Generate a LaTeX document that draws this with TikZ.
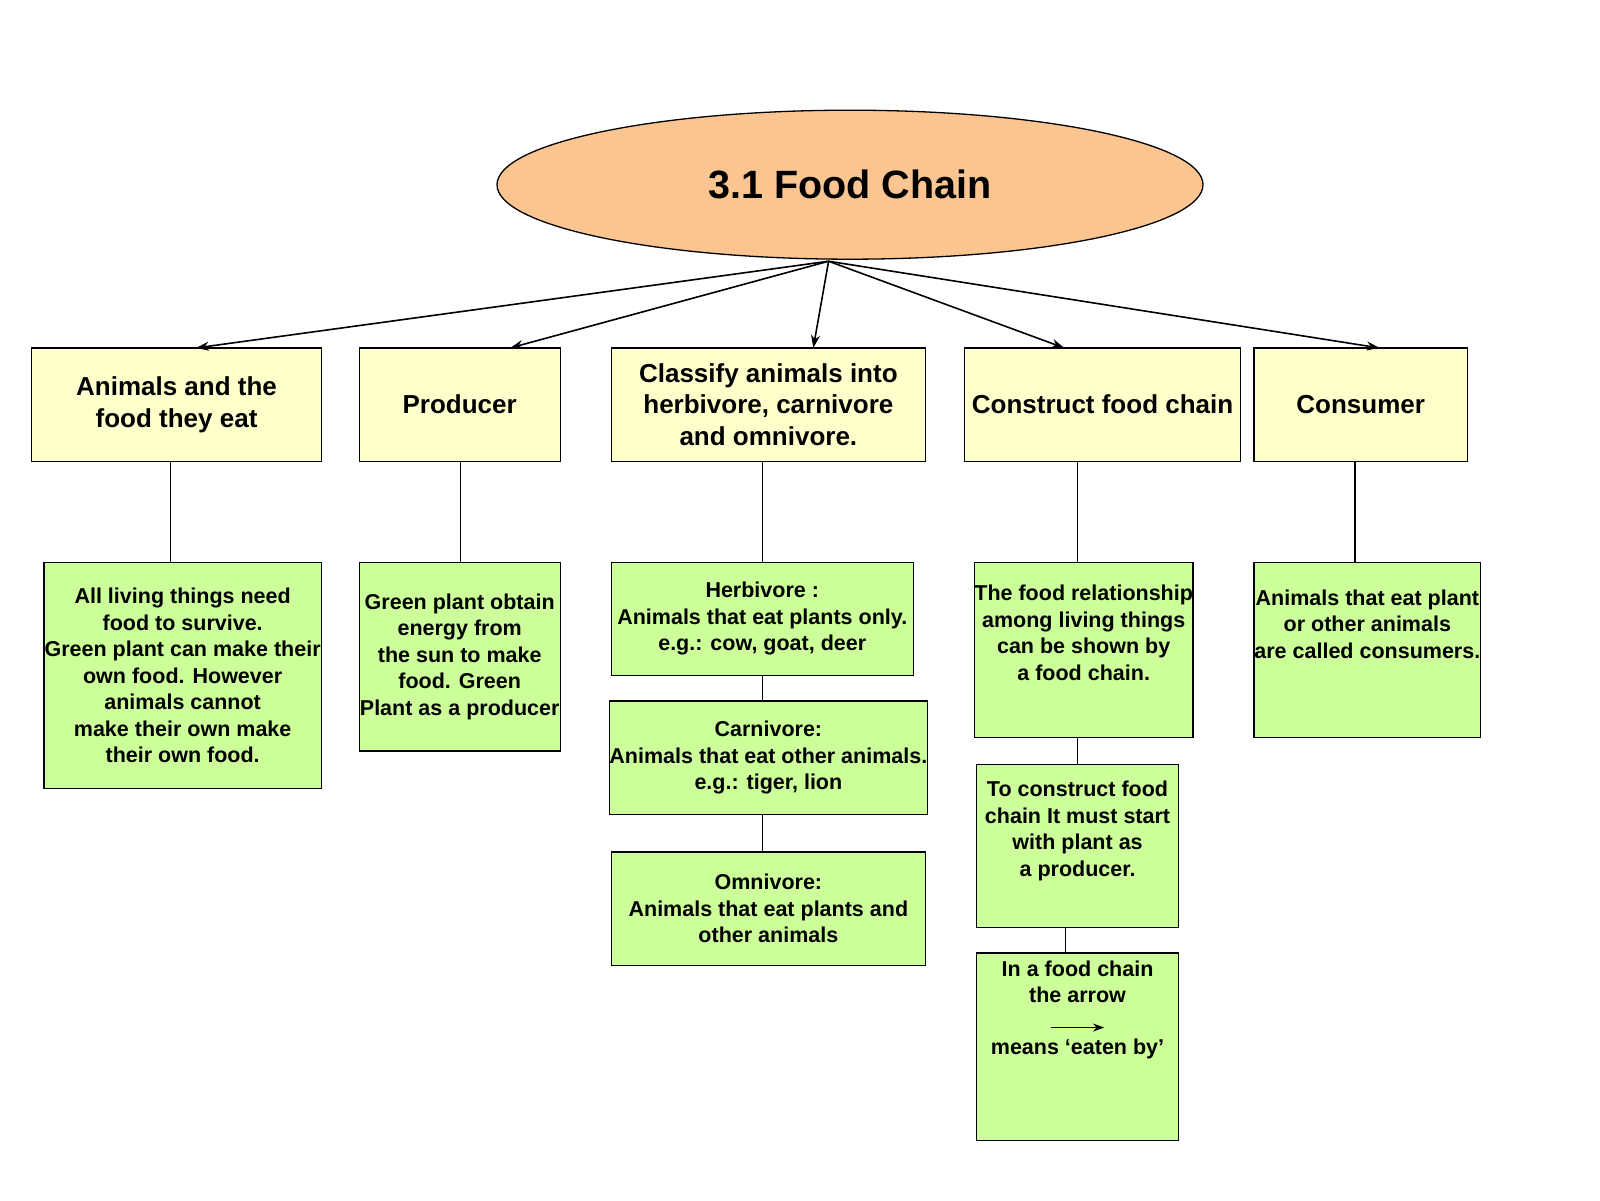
\documentclass[tikz,border=0pt]{standalone}
\usepackage{fontspec}
\setmainfont{Liberation Sans}
\usetikzlibrary{shapes.geometric,arrows.meta}
\definecolor{hdr}{HTML}{FFFFCC}
\definecolor{grn}{HTML}{CCFF99}
\definecolor{ell}{HTML}{FAC591}
\begin{document}
\begin{tikzpicture}[x=1.0204pt,y=-1.0204pt,
 box/.style={draw,line width=1.3pt,inner sep=0pt,align=center,font=\bfseries},
 hd/.style={box,fill=hdr,font=\fontsize{26}{31.6}\selectfont\bfseries},
 gr/.style={box,fill=grn,font=\fontsize{21.5}{26.5}\selectfont\bfseries},
 arr/.style={-{Stealth[length=13pt,width=9pt]},line width=1.6pt},
 ln/.style={line width=1.3pt}]
\useasboundingbox (0,0) rectangle (1568,1176);
\newcommand\bx[7]{\node[#1,minimum width={(#4-#2)*1.0204},minimum height={(#5-#3)*1.0204}] (#6) at ({(#2+#4)/2},{(#3+#5)/2}) {#7};}
\node[ellipse,draw,line width=1.3pt,fill=ell,minimum width=706,minimum height=149,font=\fontsize{39.5}{42}\selectfont\bfseries] (t) at (833,181) {3.1 Food Chain};
\coordinate (o) at (812,256);
\bx{hd}{31}{341}{315}{452}{a1}{Animals and the\\ food they eat}
\bx{hd}{352}{341}{549}{452}{p1}{Producer}
\bx{hd}{599}{341}{907}{452}{c1}{Classify animals into\\herbivore, carnivore\\and omnivore.}
\bx{hd}{945}{341}{1216}{452}{f1}{Construct food chain}
\bx{hd}{1229}{341}{1438}{452}{n1}{Consumer}
\bx{gr}{43}{551}{315}{773}{a2}{All living things need\\food to survive.\\Green plant can make their\\own food. However\\animals cannot\\make their own make\\their own food.}
\bx{gr}{352}{551}{549}{736}{p2}{Green plant obtain\\energy from\\the sun to make\\food. Green\\Plant as a producer}
\bx{gr}{599}{551}{895}{662}{h}{Herbivore :\\Animals that eat plants only.\\e.g.: cow, goat, deer}
\bx{gr}{599}{687}{907}{798}{ca}{Carnivore:\\Animals that eat other animals.\\e.g.: tiger, lion}
\bx{gr}{599}{835}{907}{946}{om}{Omnivore:\\Animals that eat plants and\\other animals}
\bx{gr}{957}{551}{1167}{723}{f2}{The food relationship\\among living things\\can be shown by\\a food chain.\\[8pt]}
\bx{gr}{957}{749}{1155}{909}{f3}{To construct food\\chain It must start\\with plant as\\a producer.\\[8pt]}
\bx{gr}{957}{934}{1155}{1118}{f4}{}
\node[font=\fontsize{21.5}{26.5}\selectfont\bfseries,align=center] (f4t) at (1056,962) {In a food chain\\the arrow};
\node[font=\fontsize{21.5}{26.5}\selectfont\bfseries] (f4b) at (1056,1028) {means ‘eaten by’};
\coordinate (sa) at (1030,1007); \coordinate (sb) at (1082,1007);
\draw[-{Stealth[length=11pt,width=8pt]},line width=1.6pt] (sa) -- (sb);
\bx{gr}{1229}{551}{1451}{723}{n2}{Animals that eat plant\\or other animals\\are called consumers.\\[26pt]}
\draw[arr] (o) -- (192,341);
\draw[arr] (o) -- (500,341);
\draw[arr] (o) -- (797,341);
\draw[arr] (o) -- (1043,341);
\draw[arr] (o) -- (1352,341);
\draw[ln] (167,452) -- (167,551);
\draw[ln] (451,452) -- (451,551);
\draw[ln] (747,452) -- (747,551);
\draw[ln] (747,662) -- (747,687);
\draw[ln] (747,798) -- (747,835);
\draw[ln] (1056,452) -- (1056,551);
\draw[ln] (1056,723) -- (1056,749);
\draw[ln] (1044,909) -- (1044,934);
\draw[ln] (1328,452) -- (1328,551);
\end{tikzpicture}
\end{document}
